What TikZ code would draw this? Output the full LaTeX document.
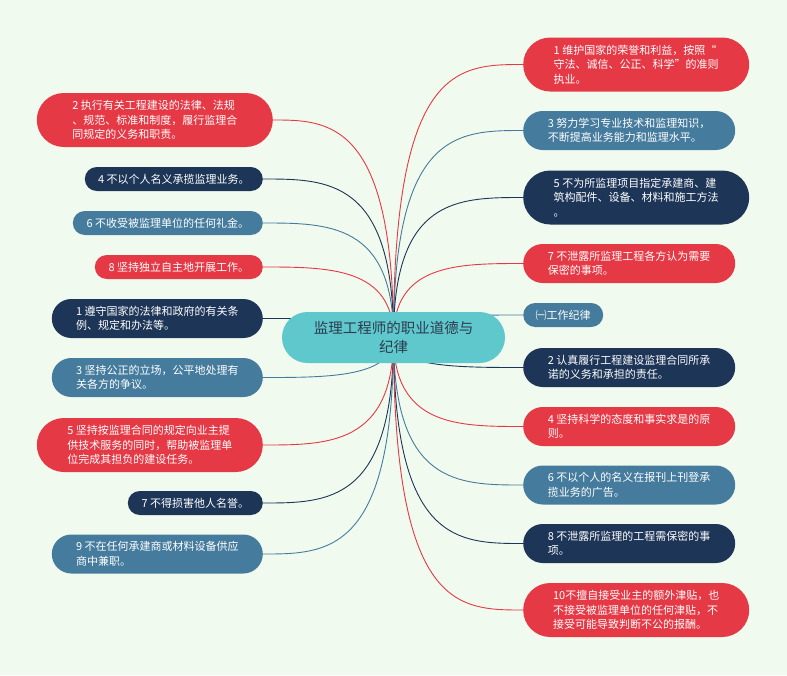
\documentclass[tikz,border=0pt]{standalone}
\usepackage{fontspec}
\setmainfont{Noto Sans CJK SC}
\usetikzlibrary{backgrounds}
\definecolor{myred}{HTML}{E63946}
\definecolor{mynavy}{HTML}{1D3557}
\definecolor{myblue}{HTML}{457B9D}
\definecolor{myteal}{HTML}{5EC8CC}
\definecolor{mybg}{HTML}{F1FAEE}
\definecolor{mytext}{HTML}{2E3B4E}

\begin{document}
\begin{tikzpicture}[x=1pt, y=-1pt,
  leaf/.style={text=white, align=left, inner xsep=0pt, inner ysep=0pt,
    font=\fontsize{11}{14.5}\selectfont},
  lone/.style={leaf, minimum height=24pt, rounded corners=12pt},
  ltwo/.style={leaf, minimum height=39pt, rounded corners=19.5pt},
  lthree/.style={leaf, minimum height=54pt, rounded corners=27pt},
  root/.style={fill=myteal, text=mytext, align=center, minimum width=223pt,
    minimum height=51pt, rounded corners=25.5pt,
    font=\fontsize{14.5}{19}\selectfont},
  link/.style={line width=0.9pt}
]
\useasboundingbox (0,0) rectangle (787,675);

% root
\node[root] (c) at (393.5,337.5) {监理工程师的职业道德与\\纪律};
\coordinate (ml) at (328,0);
\coordinate (mr) at (458,0);

% left side
\node[lthree, fill=myred, minimum width=236pt, anchor=east] (l2) at (273,120) {2 执行有关工程建设的法律、法规\\、规范、标准和制度，履行监理合\\同规定的义务和职责。};
\node[lone, fill=mynavy, minimum width=178pt, anchor=east] (l4) at (263,179) {4 不以个人名义承揽监理业务。};
\node[lone, fill=myblue, minimum width=190pt, anchor=east] (l6) at (263,223) {6 不收受被监理单位的任何礼金。};
\node[lone, fill=myred, minimum width=168pt, anchor=east] (l8) at (263,267) {8 坚持独立自主地开展工作。};
\node[ltwo, fill=mynavy, minimum width=211pt, anchor=east] (l1) at (263,318.5) {1 遵守国家的法律和政府的有关条\\例、规定和办法等。};
\node[ltwo, fill=myblue, minimum width=211pt, anchor=east] (l3) at (263,377.5) {3 坚持公正的立场，公平地处理有\\关各方的争议。};
\node[lthree, fill=myred, minimum width=226pt, anchor=east] (l5) at (263,445) {5 坚持按监理合同的规定向业主提\\供技术服务的同时，帮助被监理单\\位完成其担负的建设任务。};
\node[lone, fill=mynavy, minimum width=135pt, anchor=east] (l7) at (263,503) {7 不得损害他人名誉。};
\node[ltwo, fill=myblue, minimum width=211pt, anchor=east] (l9) at (263,554) {9 不在任何承建商或材料设备供应\\商中兼职。};

% right side
\node[lthree, fill=myred, minimum width=226pt, anchor=west] (r1) at (523,64.5) {1 维护国家的荣誉和利益，按照“\\守法、诚信、公正、科学”的准则\\执业。};
\node[ltwo, fill=myblue, minimum width=212pt, anchor=west] (r3) at (523,130.5) {3 努力学习专业技术和监理知识，\\不断提高业务能力和监理水平。};
\node[lthree, fill=mynavy, minimum width=226pt, anchor=west] (r5) at (523,197.5) {5 不为所监理项目指定承建商、建\\筑构配件、设备、材料和施工方法\\。};
\node[ltwo, fill=myred, minimum width=212pt, anchor=west] (r7) at (523,263.5) {7 不泄露所监理工程各方认为需要\\保密的事项。};
\node[lone, fill=myblue, minimum width=80pt, anchor=west] (rg) at (523,315) {㈠工作纪律};
\node[ltwo, fill=mynavy, minimum width=212pt, anchor=west] (r2) at (523,367.5) {2 认真履行工程建设监理合同所承\\诺的义务和承担的责任。};
\node[ltwo, fill=myred, minimum width=212pt, anchor=west] (r4) at (523,426.5) {4 坚持科学的态度和事实求是的原\\则。};
\node[ltwo, fill=myblue, minimum width=212pt, anchor=west] (r6) at (523,485) {6 不以个人的名义在报刊上刊登承\\揽业务的广告。};
\node[ltwo, fill=mynavy, minimum width=212pt, anchor=west] (r8) at (523,543.5) {8 不泄露所监理的工程需保密的事\\项。};
\node[lthree, fill=myred, minimum width=226pt, anchor=west] (r10) at (523,610) {10不擅自接受业主的额外津贴，也\\不接受被监理单位的任何津贴，不\\接受可能导致判断不公的报酬。};

% links
\begin{pgfonlayer}{background}
\fill[mybg] (0,0) rectangle (787,675);
\foreach \n/\col in {l2/myred, l4/mynavy, l6/myblue, l8/myred, l1/mynavy,
    l3/myblue, l5/myred, l7/mynavy, l9/myblue}
  \draw[link, \col] (c.center) .. controls (c |- \n.east) and (ml |- \n.east) .. (\n.east);
\foreach \n/\col in {r1/myred, r3/myblue, r5/mynavy, r7/myred, rg/myblue,
    r2/mynavy, r4/myred, r6/myblue, r8/mynavy, r10/myred}
  \draw[link, \col] (c.center) .. controls (c |- \n.west) and (mr |- \n.west) .. (\n.west);
\end{pgfonlayer}
\end{tikzpicture}
\end{document}
